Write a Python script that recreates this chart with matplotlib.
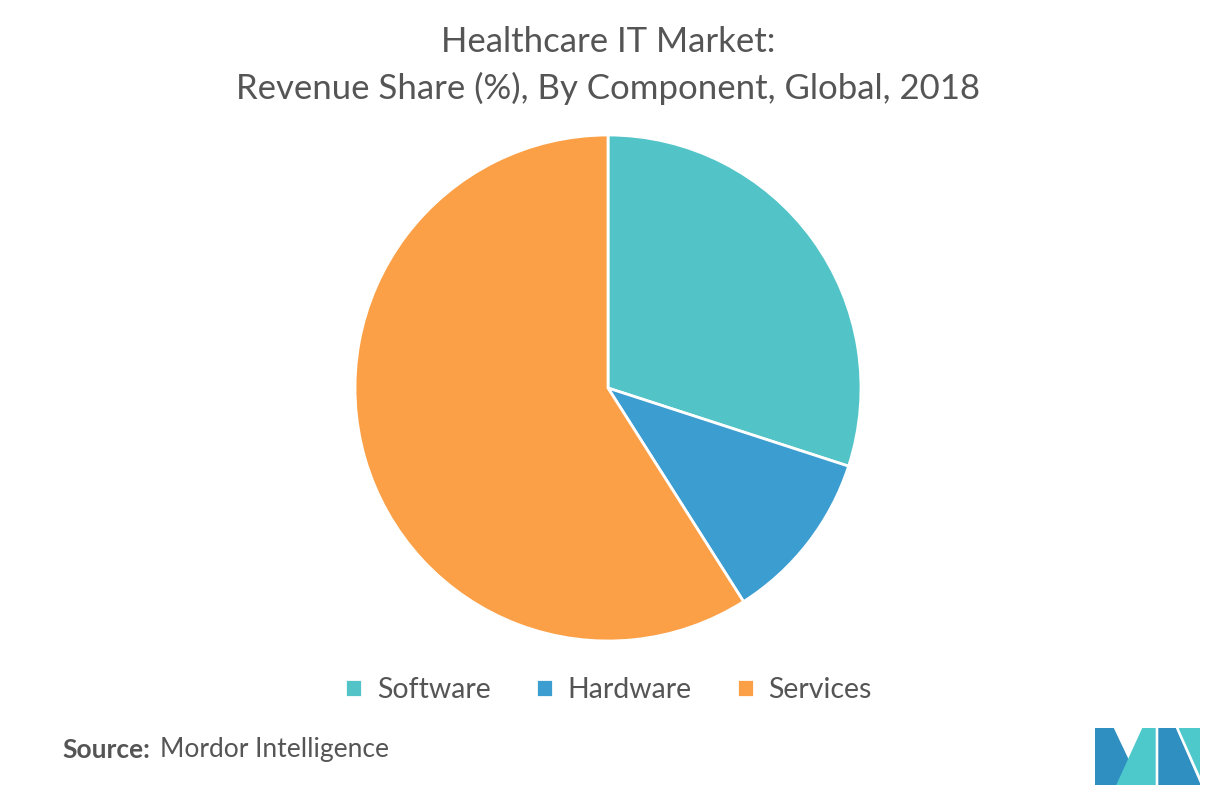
import matplotlib
matplotlib.use('Agg')
import matplotlib.pyplot as plt
from matplotlib.patches import Polygon

labels = ['Software', 'Hardware', 'Services']
shares = [30, 11, 59]
colors = ['#52c4c7', '#3c9dd0', '#fba046']

plt.rcParams['font.family'] = ['Lato', 'DejaVu Sans']

fig = plt.figure(figsize=(12.17, 7.89), dpi=100)
fig.text(0.5, 1 - 42 / 789, 'Healthcare IT Market:', ha='center', va='center', fontsize=25, color='#555555')
fig.text(0.5, 1 - 88 / 789, 'Revenue Share (%), By Component, Global, 2018', ha='center', va='center',
         fontsize=25, color='#555555')

W, H = 1217, 789
r = 253
ax = fig.add_axes([(608 - r) / W, 1 - (388 + r) / H, 2 * r / W, 2 * r / H])
wedges, _ = ax.pie(shares, colors=colors, startangle=90, counterclock=False,
                   wedgeprops=dict(edgecolor='white', linewidth=2))
ax.set_xlim(-1, 1)
ax.set_ylim(-1, 1)
ax.set_aspect('equal')

fig.legend(wedges, labels, loc='center', bbox_to_anchor=(0.5, 1 - 690 / 789), ncol=3, frameon=False,
           fontsize=20.5, labelcolor='#555555', handlelength=0.6, handleheight=0.6,
           handletextpad=0.5, columnspacing=1.6)

fig.text(62 / W, 1 - 750 / 789, 'Source:', fontsize=19, fontweight='bold', color='#555555', va='center')
fig.text(160 / W, 1 - 750 / 789, 'Mordor Intelligence', fontsize=19, color='#555555', va='center')

# logo
lax = fig.add_axes([1095 / W, 1 - 785 / H, 105 / W, 57 / H])
lax.set_xlim(0, 105)
lax.set_ylim(0, 57)
lax.axis('off')
lax.add_patch(Polygon([(0, 0), (0, 57), (18, 57), (45, 0)], color='#2f8fc0'))
lax.add_patch(Polygon([(22, 0), (48, 57), (60, 57), (60, 0)], color='#4dc9cc'))
lax.add_patch(Polygon([(64, 0), (64, 57), (80, 57), (105, 0)], color='#2f8fc0'))
lax.add_patch(Polygon([(84, 57), (105, 57), (105, 10)], color='#4dc9cc'))

fig.savefig('out.png', dpi=100)
